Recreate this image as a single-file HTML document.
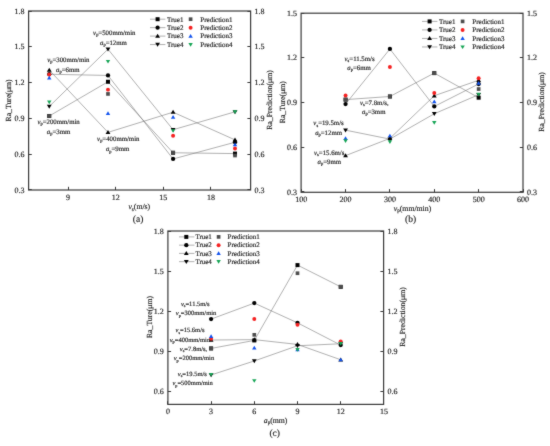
<!DOCTYPE html>
<html><head><meta charset="utf-8"><title>Ra charts</title>
<style>html,body{margin:0;padding:0;background:#fff;}body{width:550px;height:446px;overflow:hidden;}svg{display:block;}text{font-family:"Liberation Serif","Times New Roman",serif;fill:#222;stroke:#222;stroke-width:0.16px;text-rendering:geometricPrecision;}</style>
</head><body>
<svg width="550" height="446" viewBox="0 0 550 446">
<defs><filter id="soft" x="0" y="0" width="550" height="446" filterUnits="userSpaceOnUse" color-interpolation-filters="sRGB"><feConvolveMatrix order="3" kernelMatrix="0.02 0.07 0.02 0.07 0.64 0.07 0.02 0.07 0.02" edgeMode="duplicate"/></filter></defs>
<rect width="550" height="446" fill="#fff"/>
<g filter="url(#soft)">
<rect width="550" height="446" fill="#fff"/>
<g>
<polyline points="49.25,116.01 107.99,81.76 173.09,152.76 235.01,153.6" fill="none" stroke="#7a7a7a" stroke-width="0.6"/>
<polyline points="49.25,74.24 107.99,75.44 173.09,158.97 235.01,142.26" fill="none" stroke="#7a7a7a" stroke-width="0.6"/>
<polyline points="49.25,70.07 107.99,132.36 173.09,112.19 235.01,139.88" fill="none" stroke="#7a7a7a" stroke-width="0.6"/>
<polyline points="49.25,106.46 107.99,49.19 173.09,129.73 235.01,111.83" fill="none" stroke="#7a7a7a" stroke-width="0.6"/>
<rect x="47.25" y="114.01" width="4" height="4" fill="#000"/>
<rect x="105.99" y="79.76" width="4" height="4" fill="#000"/>
<rect x="171.09" y="150.76" width="4" height="4" fill="#000"/>
<rect x="233.01" y="151.6" width="4" height="4" fill="#000"/>
<circle cx="49.25" cy="74.24" r="2.15" fill="#000"/>
<circle cx="107.99" cy="75.44" r="2.15" fill="#000"/>
<circle cx="173.09" cy="158.97" r="2.15" fill="#000"/>
<circle cx="235.01" cy="142.26" r="2.15" fill="#000"/>
<path d="M49.25 67.75L51.65 71.75L46.85 71.75Z" fill="#000"/>
<path d="M107.99 130.04L110.39 134.04L105.59 134.04Z" fill="#000"/>
<path d="M173.09 109.87L175.49 113.87L170.69 113.87Z" fill="#000"/>
<path d="M235.01 137.56L237.41 141.56L232.61 141.56Z" fill="#000"/>
<path d="M49.25 108.78L51.65 104.78L46.85 104.78Z" fill="#000"/>
<path d="M107.99 51.51L110.39 47.51L105.59 47.51Z" fill="#000"/>
<path d="M173.09 132.05L175.49 128.05L170.69 128.05Z" fill="#000"/>
<path d="M235.01 114.15L237.41 110.15L232.61 110.15Z" fill="#000"/>
<rect x="47.41" y="114.17" width="3.68" height="3.68" fill="#4d4d4d"/>
<rect x="106.15" y="92.09" width="3.68" height="3.68" fill="#4d4d4d"/>
<rect x="171.25" y="150.92" width="3.68" height="3.68" fill="#4d4d4d"/>
<rect x="233.17" y="153.67" width="3.68" height="3.68" fill="#4d4d4d"/>
<circle cx="49.25" cy="74.6" r="1.98" fill="#f52222"/>
<circle cx="107.99" cy="89.64" r="1.98" fill="#f52222"/>
<circle cx="173.09" cy="135.7" r="1.98" fill="#f52222"/>
<circle cx="235.01" cy="148.59" r="1.98" fill="#f52222"/>
<path d="M49.25 75.81L51.46 79.49L47.04 79.49Z" fill="#1253ee"/>
<path d="M107.99 111.37L110.2 115.05L105.78 115.05Z" fill="#1253ee"/>
<path d="M173.09 115.07L175.3 118.75L170.88 118.75Z" fill="#1253ee"/>
<path d="M235.01 142.52L237.22 146.2L232.8 146.2Z" fill="#1253ee"/>
<path d="M49.25 104.18L51.46 100.5L47.04 100.5Z" fill="#17a556"/>
<path d="M107.99 63.61L110.2 59.93L105.78 59.93Z" fill="#17a556"/>
<path d="M173.09 132.82L175.3 129.14L170.88 129.14Z" fill="#17a556"/>
<path d="M235.01 113.97L237.22 110.29L232.8 110.29Z" fill="#17a556"/>
<rect x="28.6" y="11" width="222" height="179" fill="none" stroke="#3a3a3a" stroke-width="1.2"/>
<path d="M28.6 11.5h3.2M250.6 11.5h-3.2" stroke="#3a3a3a" stroke-width="1.0"/>
<text x="24.5" y="13.54" font-size="8" text-anchor="end">1.8</text>
<text x="254.6" y="13.54" font-size="8" text-anchor="start">1.8</text>
<path d="M28.6 46.5h3.2M250.6 46.5h-3.2" stroke="#3a3a3a" stroke-width="1.0"/>
<text x="24.5" y="49.34" font-size="8" text-anchor="end">1.5</text>
<text x="254.6" y="49.34" font-size="8" text-anchor="start">1.5</text>
<path d="M28.6 82.5h3.2M250.6 82.5h-3.2" stroke="#3a3a3a" stroke-width="1.0"/>
<text x="24.5" y="85.14" font-size="8" text-anchor="end">1.2</text>
<text x="254.6" y="85.14" font-size="8" text-anchor="start">1.2</text>
<path d="M28.6 118.5h3.2M250.6 118.5h-3.2" stroke="#3a3a3a" stroke-width="1.0"/>
<text x="24.5" y="120.94" font-size="8" text-anchor="end">0.9</text>
<text x="254.6" y="120.94" font-size="8" text-anchor="start">0.9</text>
<path d="M28.6 154.5h3.2M250.6 154.5h-3.2" stroke="#3a3a3a" stroke-width="1.0"/>
<text x="24.5" y="156.74" font-size="8" text-anchor="end">0.6</text>
<text x="254.6" y="156.74" font-size="8" text-anchor="start">0.6</text>
<path d="M28.6 189.5h3.2M250.6 189.5h-3.2" stroke="#3a3a3a" stroke-width="1.0"/>
<text x="24.5" y="192.53" font-size="8" text-anchor="end">0.3</text>
<text x="254.6" y="192.53" font-size="8" text-anchor="start">0.3</text>
<path d="M68.5 190v-3.2" stroke="#3a3a3a" stroke-width="1.0"/>
<text x="68" y="199.74" font-size="8" text-anchor="middle">9</text>
<path d="M115.5 190v-3.2" stroke="#3a3a3a" stroke-width="1.0"/>
<text x="115.63" y="199.74" font-size="8" text-anchor="middle">12</text>
<path d="M163.5 190v-3.2" stroke="#3a3a3a" stroke-width="1.0"/>
<text x="163.26" y="199.74" font-size="8" text-anchor="middle">15</text>
<path d="M210.5 190v-3.2" stroke="#3a3a3a" stroke-width="1.0"/>
<text x="210.89" y="199.74" font-size="8" text-anchor="middle">18</text>
<text transform="translate(8.7,100.4) rotate(-90)" font-size="7.75" text-anchor="middle" y="2.56">Ra_Ture(μm)</text>
<text transform="translate(269.8,100) rotate(-90)" font-size="7.75" text-anchor="middle" y="2.56">Ra_Prediction(μm)</text>
<text x="139.3" y="209.16" font-size="7.75" text-anchor="middle"><tspan font-style="italic">v</tspan><tspan font-size="5.12" dy="1.4">s</tspan><tspan dy="-1.4">(m/s)</tspan></text>
<text x="138.1" y="221.63" font-size="9.5" text-anchor="middle">(a)</text>
<path d="M150 19.2h15.4" stroke="#7a7a7a" stroke-width="0.6"/>
<rect x="155.6" y="17.2" width="4" height="4" fill="#000"/>
<text x="167" y="21.51" font-size="7" text-anchor="start">True1</text>
<rect x="188.76" y="17.36" width="3.68" height="3.68" fill="#4d4d4d"/>
<text x="200.3" y="21.51" font-size="7" text-anchor="start">Prediction1</text>
<path d="M150 27.65h15.4" stroke="#7a7a7a" stroke-width="0.6"/>
<circle cx="157.6" cy="27.65" r="2.15" fill="#000"/>
<text x="167" y="29.96" font-size="7" text-anchor="start">True2</text>
<circle cx="190.6" cy="27.65" r="1.98" fill="#f52222"/>
<text x="200.3" y="29.96" font-size="7" text-anchor="start">Prediction2</text>
<path d="M150 36.1h15.4" stroke="#7a7a7a" stroke-width="0.6"/>
<path d="M157.6 33.78L160 37.78L155.2 37.78Z" fill="#000"/>
<text x="167" y="38.41" font-size="7" text-anchor="start">True3</text>
<path d="M190.6 33.97L192.81 37.65L188.39 37.65Z" fill="#1253ee"/>
<text x="200.3" y="38.41" font-size="7" text-anchor="start">Prediction3</text>
<path d="M150 44.55h15.4" stroke="#7a7a7a" stroke-width="0.6"/>
<path d="M157.6 46.87L160 42.87L155.2 42.87Z" fill="#000"/>
<text x="167" y="46.86" font-size="7" text-anchor="start">True4</text>
<path d="M190.6 46.68L192.81 43L188.39 43Z" fill="#17a556"/>
<text x="200.3" y="46.86" font-size="7" text-anchor="start">Prediction4</text>
<text x="47.2" y="61.84" font-size="6.8" text-anchor="start"><tspan font-style="italic">v</tspan><tspan font-size="4.49" dy="1.3">p</tspan><tspan dy="-1.3">=300mm/min</tspan></text>
<text x="56.1" y="71.84" font-size="6.8" text-anchor="start"><tspan font-style="italic">a</tspan><tspan font-size="4.49" dy="1.3">p</tspan><tspan dy="-1.3">=6mm</tspan></text>
<text x="93.1" y="35.14" font-size="6.8" text-anchor="start"><tspan font-style="italic">v</tspan><tspan font-size="4.49" dy="1.3">p</tspan><tspan dy="-1.3">=500mm/min</tspan></text>
<text x="100" y="44.94" font-size="6.8" text-anchor="start"><tspan font-style="italic">a</tspan><tspan font-size="4.49" dy="1.3">p</tspan><tspan dy="-1.3">=12mm</tspan></text>
<text x="37.4" y="123.94" font-size="6.8" text-anchor="start"><tspan font-style="italic">v</tspan><tspan font-size="4.49" dy="1.3">p</tspan><tspan dy="-1.3">=200mm/min</tspan></text>
<text x="46.8" y="134.04" font-size="6.8" text-anchor="start"><tspan font-style="italic">a</tspan><tspan font-size="4.49" dy="1.3">p</tspan><tspan dy="-1.3">=3mm</tspan></text>
<text x="97.1" y="140.74" font-size="6.8" text-anchor="start"><tspan font-style="italic">v</tspan><tspan font-size="4.49" dy="1.3">p</tspan><tspan dy="-1.3">=400mm/min</tspan></text>
<text x="105.9" y="151.24" font-size="6.8" text-anchor="start"><tspan font-style="italic">a</tspan><tspan font-size="4.49" dy="1.3">p</tspan><tspan dy="-1.3">=9mm</tspan></text>
</g>
<g>
<polyline points="345.56,99.62 389.92,96.49 434.28,73.1 478.64,97.68" fill="none" stroke="#7a7a7a" stroke-width="0.6"/>
<polyline points="345.56,104.09 389.92,48.96 434.28,106.47 478.64,83.98" fill="none" stroke="#7a7a7a" stroke-width="0.6"/>
<polyline points="345.56,155.64 389.92,138.36 434.28,95.75 478.64,80.25" fill="none" stroke="#7a7a7a" stroke-width="0.6"/>
<polyline points="345.56,130.16 389.92,139.1 434.28,113.78 478.64,94.7" fill="none" stroke="#7a7a7a" stroke-width="0.6"/>
<rect x="343.56" y="97.62" width="4" height="4" fill="#000"/>
<rect x="387.92" y="94.49" width="4" height="4" fill="#000"/>
<rect x="432.28" y="71.1" width="4" height="4" fill="#000"/>
<rect x="476.64" y="95.68" width="4" height="4" fill="#000"/>
<circle cx="345.56" cy="104.09" r="2.15" fill="#000"/>
<circle cx="389.92" cy="48.96" r="2.15" fill="#000"/>
<circle cx="434.28" cy="106.47" r="2.15" fill="#000"/>
<circle cx="478.64" cy="83.98" r="2.15" fill="#000"/>
<path d="M345.56 153.32L347.96 157.32L343.16 157.32Z" fill="#000"/>
<path d="M389.92 136.04L392.32 140.04L387.52 140.04Z" fill="#000"/>
<path d="M434.28 93.43L436.68 97.43L431.88 97.43Z" fill="#000"/>
<path d="M478.64 77.93L481.04 81.93L476.24 81.93Z" fill="#000"/>
<path d="M345.56 132.48L347.96 128.48L343.16 128.48Z" fill="#000"/>
<path d="M389.92 141.42L392.32 137.42L387.52 137.42Z" fill="#000"/>
<path d="M434.28 116.09L436.68 112.09L431.88 112.09Z" fill="#000"/>
<path d="M478.64 97.02L481.04 93.02L476.24 93.02Z" fill="#000"/>
<rect x="343.72" y="97.78" width="3.68" height="3.68" fill="#4d4d4d"/>
<rect x="388.08" y="94.65" width="3.68" height="3.68" fill="#4d4d4d"/>
<rect x="432.44" y="71.26" width="3.68" height="3.68" fill="#4d4d4d"/>
<rect x="476.8" y="87.2" width="3.68" height="3.68" fill="#4d4d4d"/>
<circle cx="345.56" cy="95.45" r="1.98" fill="#f52222"/>
<circle cx="389.92" cy="66.99" r="1.98" fill="#f52222"/>
<circle cx="434.28" cy="93.06" r="1.98" fill="#f52222"/>
<circle cx="478.64" cy="78.16" r="1.98" fill="#f52222"/>
<path d="M345.56 136.37L347.77 140.05L343.35 140.05Z" fill="#1253ee"/>
<path d="M389.92 133.69L392.13 137.37L387.71 137.37Z" fill="#1253ee"/>
<path d="M434.28 99.57L436.49 103.25L432.07 103.25Z" fill="#1253ee"/>
<path d="M478.64 81.1L480.85 84.78L476.43 84.78Z" fill="#1253ee"/>
<path d="M345.56 143.03L347.77 139.35L343.35 139.35Z" fill="#17a556"/>
<path d="M389.92 143.92L392.13 140.24L387.71 140.24Z" fill="#17a556"/>
<path d="M434.28 124.7L436.49 121.02L432.07 121.02Z" fill="#17a556"/>
<path d="M478.64 96.54L480.85 92.86L476.43 92.86Z" fill="#17a556"/>
<rect x="301.1" y="13.2" width="221.9" height="179.1" fill="none" stroke="#3a3a3a" stroke-width="1.2"/>
<path d="M301.1 13.5h3.2M523 13.5h-3.2" stroke="#3a3a3a" stroke-width="1.0"/>
<text x="297" y="15.74" font-size="8" text-anchor="end">1.5</text>
<text x="527" y="15.74" font-size="8" text-anchor="start">1.5</text>
<path d="M301.1 57.5h3.2M523 57.5h-3.2" stroke="#3a3a3a" stroke-width="1.0"/>
<text x="297" y="60.44" font-size="8" text-anchor="end">1.2</text>
<text x="527" y="60.44" font-size="8" text-anchor="start">1.2</text>
<path d="M301.1 102.5h3.2M523 102.5h-3.2" stroke="#3a3a3a" stroke-width="1.0"/>
<text x="297" y="105.14" font-size="8" text-anchor="end">0.9</text>
<text x="527" y="105.14" font-size="8" text-anchor="start">0.9</text>
<path d="M301.1 147.5h3.2M523 147.5h-3.2" stroke="#3a3a3a" stroke-width="1.0"/>
<text x="297" y="149.84" font-size="8" text-anchor="end">0.6</text>
<text x="527" y="149.84" font-size="8" text-anchor="start">0.6</text>
<path d="M301.1 191.5h3.2M523 191.5h-3.2" stroke="#3a3a3a" stroke-width="1.0"/>
<text x="297" y="194.54" font-size="8" text-anchor="end">0.3</text>
<text x="527" y="194.54" font-size="8" text-anchor="start">0.3</text>
<path d="M301.5 192.3v-3.2" stroke="#3a3a3a" stroke-width="1.0"/>
<text x="301.2" y="202.04" font-size="8" text-anchor="middle">100</text>
<path d="M345.5 192.3v-3.2" stroke="#3a3a3a" stroke-width="1.0"/>
<text x="345.56" y="202.04" font-size="8" text-anchor="middle">200</text>
<path d="M389.5 192.3v-3.2" stroke="#3a3a3a" stroke-width="1.0"/>
<text x="389.92" y="202.04" font-size="8" text-anchor="middle">300</text>
<path d="M434.5 192.3v-3.2" stroke="#3a3a3a" stroke-width="1.0"/>
<text x="434.28" y="202.04" font-size="8" text-anchor="middle">400</text>
<path d="M478.5 192.3v-3.2" stroke="#3a3a3a" stroke-width="1.0"/>
<text x="478.64" y="202.04" font-size="8" text-anchor="middle">500</text>
<path d="M523.5 192.3v-3.2" stroke="#3a3a3a" stroke-width="1.0"/>
<text x="523" y="202.04" font-size="8" text-anchor="middle">600</text>
<text transform="translate(282.4,102.2) rotate(-90)" font-size="7.75" text-anchor="middle" y="2.56">Ra_Ture(μm)</text>
<text transform="translate(541.9,102) rotate(-90)" font-size="7.75" text-anchor="middle" y="2.56">Ra_Prediction(μm)</text>
<text x="412.5" y="211.06" font-size="7.75" text-anchor="middle"><tspan font-style="italic">v</tspan><tspan font-size="5.12" dy="1.4">p</tspan><tspan dy="-1.4">(mm/min)</tspan></text>
<text x="410.6" y="221.73" font-size="9.5" text-anchor="middle">(b)</text>
<path d="M422 21.4h15.4" stroke="#7a7a7a" stroke-width="0.6"/>
<rect x="427.6" y="19.4" width="4" height="4" fill="#000"/>
<text x="439" y="23.71" font-size="7" text-anchor="start">True1</text>
<rect x="460.76" y="19.56" width="3.68" height="3.68" fill="#4d4d4d"/>
<text x="472.3" y="23.71" font-size="7" text-anchor="start">Prediction1</text>
<path d="M422 29.92h15.4" stroke="#7a7a7a" stroke-width="0.6"/>
<circle cx="429.6" cy="29.92" r="2.15" fill="#000"/>
<text x="439" y="32.23" font-size="7" text-anchor="start">True2</text>
<circle cx="462.6" cy="29.92" r="1.98" fill="#f52222"/>
<text x="472.3" y="32.23" font-size="7" text-anchor="start">Prediction2</text>
<path d="M422 38.44h15.4" stroke="#7a7a7a" stroke-width="0.6"/>
<path d="M429.6 36.12L432 40.12L427.2 40.12Z" fill="#000"/>
<text x="439" y="40.75" font-size="7" text-anchor="start">True3</text>
<path d="M462.6 36.31L464.81 39.99L460.39 39.99Z" fill="#1253ee"/>
<text x="472.3" y="40.75" font-size="7" text-anchor="start">Prediction3</text>
<path d="M422 46.96h15.4" stroke="#7a7a7a" stroke-width="0.6"/>
<path d="M429.6 49.28L432 45.28L427.2 45.28Z" fill="#000"/>
<text x="439" y="49.27" font-size="7" text-anchor="start">True4</text>
<path d="M462.6 49.09L464.81 45.41L460.39 45.41Z" fill="#17a556"/>
<text x="472.3" y="49.27" font-size="7" text-anchor="start">Prediction4</text>
<text x="374.6" y="60.84" font-size="6.8" text-anchor="end"><tspan font-style="italic">v</tspan><tspan font-size="4.49" dy="1.3">s</tspan><tspan dy="-1.3">=11.5m/s</tspan></text>
<text x="370.8" y="70.14" font-size="6.8" text-anchor="end"><tspan font-style="italic">a</tspan><tspan font-size="4.49" dy="1.3">p</tspan><tspan dy="-1.3">=6mm</tspan></text>
<text x="360" y="104.64" font-size="6.8" text-anchor="start"><tspan font-style="italic">v</tspan><tspan font-size="4.49" dy="1.3">s</tspan><tspan dy="-1.3">=7.8m/s,</tspan></text>
<text x="362" y="113.74" font-size="6.8" text-anchor="start"><tspan font-style="italic">a</tspan><tspan font-size="4.49" dy="1.3">p</tspan><tspan dy="-1.3">=3mm</tspan></text>
<text x="343.7" y="125.34" font-size="6.8" text-anchor="end"><tspan font-style="italic">v</tspan><tspan font-size="4.49" dy="1.3">s</tspan><tspan dy="-1.3">=19.5m/s</tspan></text>
<text x="342" y="135.14" font-size="6.8" text-anchor="end"><tspan font-style="italic">a</tspan><tspan font-size="4.49" dy="1.3">p</tspan><tspan dy="-1.3">=12mm</tspan></text>
<text x="344.4" y="154.64" font-size="6.8" text-anchor="end"><tspan font-style="italic">v</tspan><tspan font-size="4.49" dy="1.3">s</tspan><tspan dy="-1.3">=15.6m/s</tspan></text>
<text x="341" y="164.04" font-size="6.8" text-anchor="end"><tspan font-style="italic">a</tspan><tspan font-size="4.49" dy="1.3">p</tspan><tspan dy="-1.3">=9mm</tspan></text>
</g>
<g>
<polyline points="211.1,348.43 254.3,340.43 297.5,265.1 340.7,286.83" fill="none" stroke="#7a7a7a" stroke-width="0.6"/>
<polyline points="211.1,319.1 254.3,303.1 297.5,322.83 340.7,345.1" fill="none" stroke="#7a7a7a" stroke-width="0.6"/>
<polyline points="211.1,340.03 254.3,339.63 297.5,344.43 340.7,359.76" fill="none" stroke="#7a7a7a" stroke-width="0.6"/>
<polyline points="211.1,374.96 254.3,360.96 297.5,345.76 340.7,343.76" fill="none" stroke="#7a7a7a" stroke-width="0.6"/>
<rect x="209.1" y="346.43" width="4" height="4" fill="#000"/>
<rect x="252.3" y="338.43" width="4" height="4" fill="#000"/>
<rect x="295.5" y="263.1" width="4" height="4" fill="#000"/>
<rect x="338.7" y="284.83" width="4" height="4" fill="#000"/>
<circle cx="211.1" cy="319.1" r="2.15" fill="#000"/>
<circle cx="254.3" cy="303.1" r="2.15" fill="#000"/>
<circle cx="297.5" cy="322.83" r="2.15" fill="#000"/>
<circle cx="340.7" cy="345.1" r="2.15" fill="#000"/>
<path d="M211.1 337.71L213.5 341.71L208.7 341.71Z" fill="#000"/>
<path d="M254.3 337.31L256.7 341.31L251.9 341.31Z" fill="#000"/>
<path d="M297.5 342.11L299.9 346.11L295.1 346.11Z" fill="#000"/>
<path d="M340.7 357.44L343.1 361.44L338.3 361.44Z" fill="#000"/>
<path d="M211.1 377.28L213.5 373.28L208.7 373.28Z" fill="#000"/>
<path d="M254.3 363.28L256.7 359.28L251.9 359.28Z" fill="#000"/>
<path d="M297.5 348.08L299.9 344.08L295.1 344.08Z" fill="#000"/>
<path d="M340.7 346.08L343.1 342.08L338.3 342.08Z" fill="#000"/>
<rect x="209.26" y="346.59" width="3.68" height="3.68" fill="#4d4d4d"/>
<rect x="252.46" y="332.99" width="3.68" height="3.68" fill="#4d4d4d"/>
<rect x="295.66" y="271.39" width="3.68" height="3.68" fill="#4d4d4d"/>
<rect x="338.86" y="284.99" width="3.68" height="3.68" fill="#4d4d4d"/>
<circle cx="211.1" cy="338.7" r="1.98" fill="#f52222"/>
<circle cx="254.3" cy="319.1" r="1.98" fill="#f52222"/>
<circle cx="297.5" cy="324.7" r="1.98" fill="#f52222"/>
<circle cx="340.7" cy="341.36" r="1.98" fill="#f52222"/>
<path d="M211.1 334.3L213.31 337.98L208.89 337.98Z" fill="#1253ee"/>
<path d="M254.3 345.76L256.51 349.44L252.09 349.44Z" fill="#1253ee"/>
<path d="M297.5 347.63L299.71 351.31L295.29 351.31Z" fill="#1253ee"/>
<path d="M340.7 357.63L342.91 361.31L338.49 361.31Z" fill="#1253ee"/>
<path d="M211.1 376.56L213.31 372.88L208.89 372.88Z" fill="#17a556"/>
<path d="M254.3 382.83L256.51 379.15L252.09 379.15Z" fill="#17a556"/>
<path d="M297.5 351.63L299.71 347.95L295.29 347.95Z" fill="#17a556"/>
<path d="M340.7 345.63L342.91 341.95L338.49 341.95Z" fill="#17a556"/>
<rect x="167.9" y="231" width="215.7" height="173.4" fill="none" stroke="#3a3a3a" stroke-width="1.2"/>
<path d="M167.9 231.5h3.2M383.6 231.5h-3.2" stroke="#3a3a3a" stroke-width="1.0"/>
<text x="163.8" y="233.64" font-size="8" text-anchor="end">1.8</text>
<text x="387.6" y="233.64" font-size="8" text-anchor="start">1.8</text>
<path d="M167.9 271.5h3.2M383.6 271.5h-3.2" stroke="#3a3a3a" stroke-width="1.0"/>
<text x="163.8" y="273.64" font-size="8" text-anchor="end">1.5</text>
<text x="387.6" y="273.64" font-size="8" text-anchor="start">1.5</text>
<path d="M167.9 311.5h3.2M383.6 311.5h-3.2" stroke="#3a3a3a" stroke-width="1.0"/>
<text x="163.8" y="313.64" font-size="8" text-anchor="end">1.2</text>
<text x="387.6" y="313.64" font-size="8" text-anchor="start">1.2</text>
<path d="M167.9 351.5h3.2M383.6 351.5h-3.2" stroke="#3a3a3a" stroke-width="1.0"/>
<text x="163.8" y="353.64" font-size="8" text-anchor="end">0.9</text>
<text x="387.6" y="353.64" font-size="8" text-anchor="start">0.9</text>
<path d="M167.9 391.5h3.2M383.6 391.5h-3.2" stroke="#3a3a3a" stroke-width="1.0"/>
<text x="163.8" y="393.64" font-size="8" text-anchor="end">0.6</text>
<text x="387.6" y="393.64" font-size="8" text-anchor="start">0.6</text>
<path d="M167.5 404.4v-3.2" stroke="#3a3a3a" stroke-width="1.0"/>
<text x="167.9" y="414.14" font-size="8" text-anchor="middle">0</text>
<path d="M211.5 404.4v-3.2" stroke="#3a3a3a" stroke-width="1.0"/>
<text x="211.1" y="414.14" font-size="8" text-anchor="middle">3</text>
<path d="M254.5 404.4v-3.2" stroke="#3a3a3a" stroke-width="1.0"/>
<text x="254.3" y="414.14" font-size="8" text-anchor="middle">6</text>
<path d="M297.5 404.4v-3.2" stroke="#3a3a3a" stroke-width="1.0"/>
<text x="297.5" y="414.14" font-size="8" text-anchor="middle">9</text>
<path d="M340.5 404.4v-3.2" stroke="#3a3a3a" stroke-width="1.0"/>
<text x="340.7" y="414.14" font-size="8" text-anchor="middle">12</text>
<path d="M383.5 404.4v-3.2" stroke="#3a3a3a" stroke-width="1.0"/>
<text x="383.9" y="414.14" font-size="8" text-anchor="middle">15</text>
<text transform="translate(149.8,317) rotate(-90)" font-size="7.75" text-anchor="middle" y="2.56">Ra_Ture(μm)</text>
<text transform="translate(402,317) rotate(-90)" font-size="7.75" text-anchor="middle" y="2.56">Ra_Prediction(μm)</text>
<text x="275.6" y="423.06" font-size="7.75" text-anchor="middle"><tspan font-style="italic">a</tspan><tspan font-size="5.12" dy="1.4">p</tspan><tspan dy="-1.4">(mm)</tspan></text>
<text x="274.7" y="435.74" font-size="9.5" text-anchor="middle">(c)</text>
<path d="M179 236.9h15.4" stroke="#7a7a7a" stroke-width="0.6"/>
<rect x="184.3" y="234.9" width="4" height="4" fill="#000"/>
<text x="195.4" y="239.21" font-size="7" text-anchor="start">True1</text>
<rect x="216.76" y="235.06" width="3.68" height="3.68" fill="#4d4d4d"/>
<text x="227.6" y="239.21" font-size="7" text-anchor="start">Prediction1</text>
<path d="M179 245.15h15.4" stroke="#7a7a7a" stroke-width="0.6"/>
<circle cx="186.3" cy="245.15" r="2.15" fill="#000"/>
<text x="195.4" y="247.46" font-size="7" text-anchor="start">True2</text>
<circle cx="218.6" cy="245.15" r="1.98" fill="#f52222"/>
<text x="227.6" y="247.46" font-size="7" text-anchor="start">Prediction2</text>
<path d="M179 253.4h15.4" stroke="#7a7a7a" stroke-width="0.6"/>
<path d="M186.3 251.08L188.7 255.08L183.9 255.08Z" fill="#000"/>
<text x="195.4" y="255.71" font-size="7" text-anchor="start">True3</text>
<path d="M218.6 251.27L220.81 254.95L216.39 254.95Z" fill="#1253ee"/>
<text x="227.6" y="255.71" font-size="7" text-anchor="start">Prediction3</text>
<path d="M179 261.65h15.4" stroke="#7a7a7a" stroke-width="0.6"/>
<path d="M186.3 263.97L188.7 259.97L183.9 259.97Z" fill="#000"/>
<text x="195.4" y="263.96" font-size="7" text-anchor="start">True4</text>
<path d="M218.6 263.78L220.81 260.1L216.39 260.1Z" fill="#17a556"/>
<text x="227.6" y="263.96" font-size="7" text-anchor="start">Prediction4</text>
<text x="180.9" y="305.64" font-size="6.5" text-anchor="start"><tspan font-style="italic">v</tspan><tspan font-size="4.29" dy="1.3">s</tspan><tspan dy="-1.3">=11.5m/s</tspan></text>
<text x="175.8" y="315.25" font-size="6.5" text-anchor="start"><tspan font-style="italic">v</tspan><tspan font-size="4.29" dy="1.3">p</tspan><tspan dy="-1.3">=300mm/min</tspan></text>
<text x="175.5" y="332.25" font-size="6.5" text-anchor="start"><tspan font-style="italic">v</tspan><tspan font-size="4.29" dy="1.3">s</tspan><tspan dy="-1.3">=15.6m/s</tspan></text>
<text x="169.7" y="341.64" font-size="6.5" text-anchor="start"><tspan font-style="italic">v</tspan><tspan font-size="4.29" dy="1.3">p</tspan><tspan dy="-1.3">=400mm/min</tspan></text>
<text x="179.8" y="350.64" font-size="6.5" text-anchor="start"><tspan font-style="italic">v</tspan><tspan font-size="4.29" dy="1.3">s</tspan><tspan dy="-1.3">=7.8m/s,</tspan></text>
<text x="173.7" y="360.25" font-size="6.5" text-anchor="start"><tspan font-style="italic">v</tspan><tspan font-size="4.29" dy="1.3">p</tspan><tspan dy="-1.3">=200mm/min</tspan></text>
<text x="177.8" y="376.14" font-size="6.5" text-anchor="start"><tspan font-style="italic">v</tspan><tspan font-size="4.29" dy="1.3">s</tspan><tspan dy="-1.3">=19.5m/s</tspan></text>
<text x="172.4" y="385.34" font-size="6.5" text-anchor="start"><tspan font-style="italic">v</tspan><tspan font-size="4.29" dy="1.3">p</tspan><tspan dy="-1.3">=500mm/min</tspan></text>
</g>
</g>
</svg>
</body></html>
